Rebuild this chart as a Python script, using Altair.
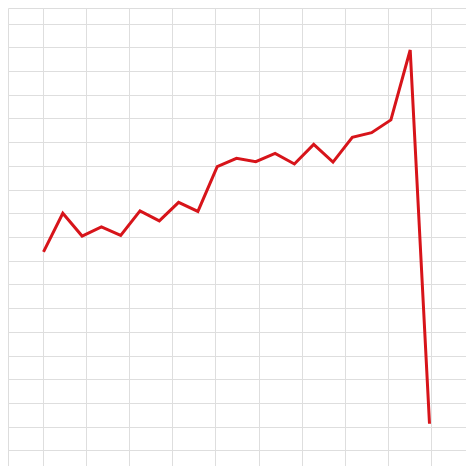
import altair as alt
import pandas as pd

# Values (step index, level in grid-row units)
steps = list(range(21))
values = [9.37, 11.00, 10.04, 10.43, 10.07, 11.10, 10.68, 11.46, 11.08, 12.97,
          13.32, 13.18, 13.53, 13.08, 13.91, 13.16, 14.21, 14.40, 14.94, 17.89, 2.12]

df = pd.DataFrame({"step": steps, "value": values})

# grid columns (11 across the image), expressed in step units
col_w = 474 / 11
row_h = 474 / 20
step_px = 19.3
first_px = 43.5
x_grid = [round((col_w * k - first_px) / step_px, 4) for k in range(1, 11)]
x_domain = [(8 - first_px) / step_px, (466 - first_px) / step_px]
y_domain = [(474 - 466) / row_h, (474 - 8) / row_h]
y_grid = list(range(1, 20))

chart = alt.Chart(df).mark_line(
    color="#d7141a", strokeWidth=3, strokeCap="butt", strokeJoin="miter"
).encode(
    x=alt.X("step:Q", scale=alt.Scale(domain=x_domain, nice=False, zero=False),
            axis=alt.Axis(values=x_grid, grid=True, domain=False, ticks=False,
                          labels=False, title=None, gridColor="#dedede", gridWidth=1)),
    y=alt.Y("value:Q", scale=alt.Scale(domain=y_domain, nice=False, zero=False),
            axis=alt.Axis(values=y_grid, grid=True, domain=False, ticks=False,
                          labels=False, title=None, gridColor="#dedede", gridWidth=1)),
).properties(
    width=458, height=458, padding=0, autosize=alt.AutoSizeParams(type="none")
).configure_view(stroke=None).configure(background="white")

chart.save("out.html", embed_options={"renderer": "svg", "actions": False})
